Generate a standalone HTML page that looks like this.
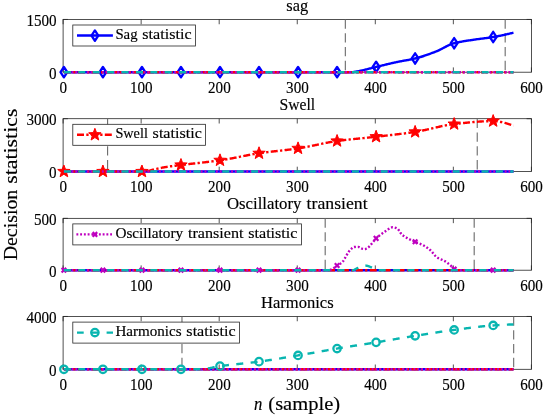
<!DOCTYPE html>
<html><head><meta charset="utf-8"><style>html,body{margin:0;padding:0;background:#fff;overflow:hidden}svg{display:block}text{stroke:#000;stroke-width:0.15px}</style></head><body>
<svg width="550" height="419" viewBox="0 0 550 419" font-family="Liberation Serif, serif" fill="#000">
<rect width="550" height="419" fill="#fff"/>
<rect x="63.1" y="19.45" width="468.30" height="52.75" fill="none" stroke="#262626" stroke-width="0.8"/>
<line x1="63.10" y1="19.45" x2="63.10" y2="24.25" stroke="#262626" stroke-width="0.8"/>
<line x1="63.10" y1="72.2" x2="63.10" y2="67.4" stroke="#262626" stroke-width="0.8"/>
<line x1="141.15" y1="19.45" x2="141.15" y2="24.25" stroke="#262626" stroke-width="0.8"/>
<line x1="141.15" y1="72.2" x2="141.15" y2="67.4" stroke="#262626" stroke-width="0.8"/>
<line x1="219.20" y1="19.45" x2="219.20" y2="24.25" stroke="#262626" stroke-width="0.8"/>
<line x1="219.20" y1="72.2" x2="219.20" y2="67.4" stroke="#262626" stroke-width="0.8"/>
<line x1="297.25" y1="19.45" x2="297.25" y2="24.25" stroke="#262626" stroke-width="0.8"/>
<line x1="297.25" y1="72.2" x2="297.25" y2="67.4" stroke="#262626" stroke-width="0.8"/>
<line x1="375.30" y1="19.45" x2="375.30" y2="24.25" stroke="#262626" stroke-width="0.8"/>
<line x1="375.30" y1="72.2" x2="375.30" y2="67.4" stroke="#262626" stroke-width="0.8"/>
<line x1="453.35" y1="19.45" x2="453.35" y2="24.25" stroke="#262626" stroke-width="0.8"/>
<line x1="453.35" y1="72.2" x2="453.35" y2="67.4" stroke="#262626" stroke-width="0.8"/>
<line x1="531.40" y1="19.45" x2="531.40" y2="24.25" stroke="#262626" stroke-width="0.8"/>
<line x1="531.40" y1="72.2" x2="531.40" y2="67.4" stroke="#262626" stroke-width="0.8"/>
<line x1="63.1" y1="19.45" x2="67.9" y2="19.45" stroke="#262626" stroke-width="0.8"/>
<line x1="531.4" y1="19.45" x2="526.6" y2="19.45" stroke="#262626" stroke-width="0.8"/>
<line x1="345.33" y1="19.45" x2="345.33" y2="72.2" stroke="#6a6a6a" stroke-width="1.1" stroke-dasharray="9.3 4.5"/>
<line x1="505.18" y1="19.45" x2="505.18" y2="72.2" stroke="#6a6a6a" stroke-width="1.1" stroke-dasharray="9.3 4.5"/>
<path d="M63.90,72.20 L64.68,72.20 L65.46,72.20 L66.24,72.20 L67.02,72.20 L67.80,72.20 L68.58,72.20 L69.36,72.20 L70.14,72.20 L70.92,72.20 L71.70,72.20 L72.49,72.20 L73.27,72.20 L74.05,72.20 L74.83,72.20 L75.61,72.20 L76.39,72.20 L77.17,72.20 L77.95,72.20 L78.73,72.20 L79.51,72.20 L80.29,72.20 L81.07,72.20 L81.85,72.20 L82.63,72.20 L83.41,72.20 L84.19,72.20 L84.97,72.20 L85.75,72.20 L86.53,72.20 L87.31,72.20 L88.10,72.20 L88.88,72.20 L89.66,72.20 L90.44,72.20 L91.22,72.20 L92.00,72.20 L92.78,72.20 L93.56,72.20 L94.34,72.20 L95.12,72.20 L95.90,72.20 L96.68,72.20 L97.46,72.20 L98.24,72.20 L99.02,72.20 L99.80,72.20 L100.58,72.20 L101.36,72.20 L102.14,72.20 L102.92,72.20 L103.71,72.20 L104.49,72.20 L105.27,72.20 L106.05,72.20 L106.83,72.20 L107.61,72.20 L108.39,72.20 L109.17,72.20 L109.95,72.20 L110.73,72.20 L111.51,72.20 L112.29,72.20 L113.07,72.20 L113.85,72.20 L114.63,72.20 L115.41,72.20 L116.19,72.20 L116.97,72.20 L117.75,72.20 L118.53,72.20 L119.32,72.20 L120.10,72.20 L120.88,72.20 L121.66,72.20 L122.44,72.20 L123.22,72.20 L124.00,72.20 L124.78,72.20 L125.56,72.20 L126.34,72.20 L127.12,72.20 L127.90,72.20 L128.68,72.20 L129.46,72.20 L130.24,72.20 L131.02,72.20 L131.80,72.20 L132.58,72.20 L133.36,72.20 L134.15,72.20 L134.93,72.20 L135.71,72.20 L136.49,72.20 L137.27,72.20 L138.05,72.20 L138.83,72.20 L139.61,72.20 L140.39,72.20 L141.17,72.20 L141.95,72.20 L142.73,72.20 L143.51,72.20 L144.29,72.20 L145.07,72.20 L145.85,72.20 L146.63,72.20 L147.41,72.20 L148.19,72.20 L148.97,72.20 L149.75,72.20 L150.54,72.20 L151.32,72.20 L152.10,72.20 L152.88,72.20 L153.66,72.20 L154.44,72.20 L155.22,72.20 L156.00,72.20 L156.78,72.20 L157.56,72.20 L158.34,72.20 L159.12,72.20 L159.90,72.20 L160.68,72.20 L161.46,72.20 L162.24,72.20 L163.02,72.20 L163.80,72.20 L164.58,72.20 L165.37,72.20 L166.15,72.20 L166.93,72.20 L167.71,72.20 L168.49,72.20 L169.27,72.20 L170.05,72.20 L170.83,72.20 L171.61,72.20 L172.39,72.20 L173.17,72.20 L173.95,72.20 L174.73,72.20 L175.51,72.20 L176.29,72.20 L177.07,72.20 L177.85,72.20 L178.63,72.20 L179.41,72.20 L180.19,72.20 L180.97,72.20 L181.76,72.20 L182.54,72.20 L183.32,72.20 L184.10,72.20 L184.88,72.20 L185.66,72.20 L186.44,72.20 L187.22,72.20 L188.00,72.20 L188.78,72.20 L189.56,72.20 L190.34,72.20 L191.12,72.20 L191.90,72.20 L192.68,72.20 L193.46,72.20 L194.24,72.20 L195.02,72.20 L195.80,72.20 L196.59,72.20 L197.37,72.20 L198.15,72.20 L198.93,72.20 L199.71,72.20 L200.49,72.20 L201.27,72.20 L202.05,72.20 L202.83,72.20 L203.61,72.20 L204.39,72.20 L205.17,72.20 L205.95,72.20 L206.73,72.20 L207.51,72.20 L208.29,72.20 L209.07,72.20 L209.85,72.20 L210.63,72.20 L211.41,72.20 L212.19,72.20 L212.98,72.20 L213.76,72.20 L214.54,72.20 L215.32,72.20 L216.10,72.20 L216.88,72.20 L217.66,72.20 L218.44,72.20 L219.22,72.20 L220.00,72.20 L220.78,72.20 L221.56,72.20 L222.34,72.20 L223.12,72.20 L223.90,72.20 L224.68,72.20 L225.46,72.20 L226.24,72.20 L227.02,72.20 L227.81,72.20 L228.59,72.20 L229.37,72.20 L230.15,72.20 L230.93,72.20 L231.71,72.20 L232.49,72.20 L233.27,72.20 L234.05,72.20 L234.83,72.20 L235.61,72.20 L236.39,72.20 L237.17,72.20 L237.95,72.20 L238.73,72.20 L239.51,72.20 L240.29,72.20 L241.07,72.20 L241.85,72.20 L242.63,72.20 L243.41,72.20 L244.20,72.20 L244.98,72.20 L245.76,72.20 L246.54,72.20 L247.32,72.20 L248.10,72.20 L248.88,72.20 L249.66,72.20 L250.44,72.20 L251.22,72.20 L252.00,72.20 L252.78,72.20 L253.56,72.20 L254.34,72.20 L255.12,72.20 L255.90,72.20 L256.68,72.20 L257.46,72.20 L258.24,72.20 L259.02,72.20 L259.81,72.20 L260.59,72.20 L261.37,72.20 L262.15,72.20 L262.93,72.20 L263.71,72.20 L264.49,72.20 L265.27,72.20 L266.05,72.20 L266.83,72.20 L267.61,72.20 L268.39,72.20 L269.17,72.20 L269.95,72.20 L270.73,72.20 L271.51,72.20 L272.29,72.20 L273.07,72.20 L273.85,72.20 L274.63,72.20 L275.42,72.20 L276.20,72.20 L276.98,72.20 L277.76,72.20 L278.54,72.20 L279.32,72.20 L280.10,72.20 L280.88,72.20 L281.66,72.20 L282.44,72.20 L283.22,72.20 L284.00,72.20 L284.78,72.20 L285.56,72.20 L286.34,72.20 L287.12,72.20 L287.90,72.20 L288.68,72.20 L289.46,72.20 L290.25,72.20 L291.03,72.20 L291.81,72.20 L292.59,72.20 L293.37,72.20 L294.15,72.20 L294.93,72.20 L295.71,72.20 L296.49,72.20 L297.27,72.20 L298.05,72.20 L298.83,72.20 L299.61,72.20 L300.39,72.20 L301.17,72.20 L301.95,72.20 L302.73,72.20 L303.51,72.20 L304.29,72.20 L305.07,72.20 L305.85,72.20 L306.64,72.20 L307.42,72.20 L308.20,72.20 L308.98,72.20 L309.76,72.20 L310.54,72.20 L311.32,72.20 L312.10,72.20 L312.88,72.20 L313.66,72.20 L314.44,72.20 L315.22,72.20 L316.00,72.20 L316.78,72.20 L317.56,72.20 L318.34,72.20 L319.12,72.20 L319.90,72.20 L320.68,72.20 L321.46,72.20 L322.25,72.20 L323.03,72.20 L323.81,72.20 L324.59,72.20 L325.37,72.20 L326.15,72.20 L326.93,72.20 L327.71,72.20 L328.49,72.20 L329.27,72.20 L330.05,72.20 L330.83,72.20 L331.61,72.20 L332.39,72.20 L333.17,72.20 L333.95,72.20 L334.73,72.20 L335.51,72.20 L336.29,72.20 L337.07,72.20 L337.86,72.20 L338.64,72.20 L339.42,72.20 L340.20,72.20 L340.98,72.20 L341.76,72.20 L342.54,72.20 L343.32,72.20 L344.10,72.20 L344.88,72.20 L345.66,72.20 L346.44,72.20 L347.22,72.20 L348.00,72.20 L348.78,72.20 L349.56,72.20 L350.34,72.20 L351.12,72.20 L351.90,72.18 L352.68,72.11 L353.47,72.01 L354.25,71.89 L355.03,71.76 L355.81,71.63 L356.59,71.50 L357.37,71.37 L358.15,71.23 L358.93,71.09 L359.71,70.93 L360.49,70.77 L361.27,70.61 L362.05,70.43 L362.83,70.26 L363.61,70.07 L364.39,69.88 L365.17,69.69 L365.95,69.50 L366.73,69.30 L367.51,69.10 L368.29,68.90 L369.08,68.70 L369.86,68.49 L370.64,68.29 L371.42,68.09 L372.20,67.89 L372.98,67.69 L373.76,67.49 L374.54,67.30 L375.32,67.11 L376.10,66.92 L376.88,66.74 L377.66,66.56 L378.44,66.37 L379.22,66.18 L380.00,65.99 L380.78,65.80 L381.56,65.62 L382.34,65.43 L383.12,65.24 L383.90,65.05 L384.69,64.86 L385.47,64.67 L386.25,64.48 L387.03,64.29 L387.81,64.10 L388.59,63.92 L389.37,63.73 L390.15,63.55 L390.93,63.37 L391.71,63.18 L392.49,63.01 L393.27,62.83 L394.05,62.65 L394.83,62.48 L395.61,62.31 L396.39,62.14 L397.17,61.98 L397.95,61.82 L398.73,61.67 L399.51,61.52 L400.30,61.37 L401.08,61.22 L401.86,61.08 L402.64,60.94 L403.42,60.80 L404.20,60.67 L404.98,60.53 L405.76,60.39 L406.54,60.25 L407.32,60.11 L408.10,59.96 L408.88,59.82 L409.66,59.67 L410.44,59.52 L411.22,59.36 L412.00,59.20 L412.78,59.03 L413.56,58.85 L414.34,58.67 L415.12,58.48 L415.91,58.29 L416.69,58.09 L417.47,57.88 L418.25,57.66 L419.03,57.44 L419.81,57.21 L420.59,56.98 L421.37,56.74 L422.15,56.49 L422.93,56.24 L423.71,55.99 L424.49,55.73 L425.27,55.46 L426.05,55.19 L426.83,54.92 L427.61,54.64 L428.39,54.36 L429.17,54.08 L429.95,53.79 L430.73,53.50 L431.52,53.21 L432.30,52.92 L433.08,52.62 L433.86,52.32 L434.64,52.02 L435.42,51.72 L436.20,51.42 L436.98,51.10 L437.76,50.77 L438.54,50.42 L439.32,50.05 L440.10,49.67 L440.88,49.28 L441.66,48.88 L442.44,48.47 L443.22,48.06 L444.00,47.65 L444.78,47.24 L445.56,46.83 L446.34,46.43 L447.13,46.03 L447.91,45.65 L448.69,45.28 L449.47,44.92 L450.25,44.58 L451.03,44.26 L451.81,43.96 L452.59,43.69 L453.37,43.44 L454.15,43.22 L454.93,43.02 L455.71,42.83 L456.49,42.65 L457.27,42.48 L458.05,42.31 L458.83,42.15 L459.61,41.99 L460.39,41.84 L461.17,41.70 L461.95,41.56 L462.74,41.42 L463.52,41.29 L464.30,41.16 L465.08,41.04 L465.86,40.91 L466.64,40.79 L467.42,40.67 L468.20,40.55 L468.98,40.43 L469.76,40.32 L470.54,40.20 L471.32,40.07 L472.10,39.95 L472.88,39.83 L473.66,39.71 L474.44,39.60 L475.22,39.49 L476.00,39.38 L476.78,39.27 L477.56,39.17 L478.35,39.07 L479.13,38.97 L479.91,38.87 L480.69,38.77 L481.47,38.67 L482.25,38.57 L483.03,38.47 L483.81,38.37 L484.59,38.27 L485.37,38.17 L486.15,38.07 L486.93,37.97 L487.71,37.86 L488.49,37.75 L489.27,37.64 L490.05,37.53 L490.83,37.41 L491.61,37.29 L492.39,37.16 L493.17,37.03 L493.96,36.90 L494.74,36.76 L495.52,36.62 L496.30,36.48 L497.08,36.33 L497.86,36.18 L498.64,36.03 L499.42,35.88 L500.20,35.72 L500.98,35.56 L501.76,35.40 L502.54,35.23 L503.32,35.06 L504.10,34.89 L504.88,34.72 L505.66,34.54 L506.44,34.36 L507.22,34.18 L508.00,34.00 L508.78,33.81 L509.57,33.63 L510.35,33.44 L511.13,33.25 L511.91,33.05 L512.69,32.86 L513.47,32.66" fill="none" stroke="#0000ff" stroke-width="2.4" stroke-linejoin="round"/>
<path d="M63.90,67.00 L67.30,72.20 L63.90,77.40 L60.50,72.20 Z" fill="none" stroke="#0000ff" stroke-width="2.3" stroke-linejoin="round"/>
<path d="M102.92,67.00 L106.33,72.20 L102.92,77.40 L99.52,72.20 Z" fill="none" stroke="#0000ff" stroke-width="2.3" stroke-linejoin="round"/>
<path d="M141.95,67.00 L145.35,72.20 L141.95,77.40 L138.55,72.20 Z" fill="none" stroke="#0000ff" stroke-width="2.3" stroke-linejoin="round"/>
<path d="M180.97,67.00 L184.38,72.20 L180.97,77.40 L177.57,72.20 Z" fill="none" stroke="#0000ff" stroke-width="2.3" stroke-linejoin="round"/>
<path d="M220.00,67.00 L223.40,72.20 L220.00,77.40 L216.60,72.20 Z" fill="none" stroke="#0000ff" stroke-width="2.3" stroke-linejoin="round"/>
<path d="M259.02,67.00 L262.42,72.20 L259.02,77.40 L255.62,72.20 Z" fill="none" stroke="#0000ff" stroke-width="2.3" stroke-linejoin="round"/>
<path d="M298.05,67.00 L301.45,72.20 L298.05,77.40 L294.65,72.20 Z" fill="none" stroke="#0000ff" stroke-width="2.3" stroke-linejoin="round"/>
<path d="M337.07,67.00 L340.47,72.20 L337.07,77.40 L333.68,72.20 Z" fill="none" stroke="#0000ff" stroke-width="2.3" stroke-linejoin="round"/>
<path d="M376.10,61.72 L379.50,66.92 L376.10,72.12 L372.70,66.92 Z" fill="none" stroke="#0000ff" stroke-width="2.3" stroke-linejoin="round"/>
<path d="M415.12,53.28 L418.52,58.48 L415.12,63.69 L411.72,58.48 Z" fill="none" stroke="#0000ff" stroke-width="2.3" stroke-linejoin="round"/>
<path d="M454.15,38.02 L457.55,43.22 L454.15,48.42 L450.75,43.22 Z" fill="none" stroke="#0000ff" stroke-width="2.3" stroke-linejoin="round"/>
<path d="M493.17,31.83 L496.57,37.03 L493.17,42.23 L489.77,37.03 Z" fill="none" stroke="#0000ff" stroke-width="2.3" stroke-linejoin="round"/>
<line x1="63.90" y1="72.2" x2="513.47" y2="72.2" stroke="#ff0000" stroke-width="2.4" stroke-dasharray="7 2.3 2.3 2.3"/>
<line x1="63.90" y1="72.2" x2="513.47" y2="72.2" stroke="#bf00bf" stroke-width="2.4" stroke-dasharray="1.9 1.9"/>
<line x1="63.90" y1="72.2" x2="513.47" y2="72.2" stroke="#08b5b0" stroke-width="2.4" stroke-dasharray="7 7.4"/>
<text x="59.53" y="92.8" font-size="15.9" textLength="7.55" lengthAdjust="spacingAndGlyphs">0</text>
<text x="130.03" y="92.8" font-size="15.9" textLength="22.65" lengthAdjust="spacingAndGlyphs">100</text>
<text x="208.07" y="92.8" font-size="15.9" textLength="22.65" lengthAdjust="spacingAndGlyphs">200</text>
<text x="286.12" y="92.8" font-size="15.9" textLength="22.65" lengthAdjust="spacingAndGlyphs">300</text>
<text x="364.18" y="92.8" font-size="15.9" textLength="22.65" lengthAdjust="spacingAndGlyphs">400</text>
<text x="442.23" y="92.8" font-size="15.9" textLength="22.65" lengthAdjust="spacingAndGlyphs">500</text>
<text x="520.27" y="92.8" font-size="15.9" textLength="22.65" lengthAdjust="spacingAndGlyphs">600</text>
<text x="26.40" y="25.9" font-size="15.9" textLength="30.20" lengthAdjust="spacingAndGlyphs">1500</text>
<text x="49.05" y="78.6" font-size="15.9" textLength="7.55" lengthAdjust="spacingAndGlyphs">0</text>
<text x="286.39" y="11.3" font-size="16.2" textLength="21.82" lengthAdjust="spacingAndGlyphs">sag</text>
<rect x="72.8" y="25.0" width="122.6" height="21.0" fill="#fff" stroke="#262626" stroke-width="0.8"/>
<line x1="77" y1="35.5" x2="112.9" y2="35.5" stroke="#0000ff" stroke-width="2.4"/>
<path d="M94.90,30.35 L98.30,35.55 L94.90,40.75 L91.50,35.55 Z" fill="none" stroke="#0000ff" stroke-width="2.3" stroke-linejoin="round"/>
<text x="115.40" y="39.0" font-size="14.6" textLength="22.17" lengthAdjust="spacingAndGlyphs">Sag</text><text x="142.32" y="39.0" font-size="14.6" textLength="49.23" lengthAdjust="spacingAndGlyphs">statistic</text>
<rect x="63.1" y="118.7" width="468.30" height="52.80" fill="none" stroke="#262626" stroke-width="0.8"/>
<line x1="63.10" y1="118.7" x2="63.10" y2="123.5" stroke="#262626" stroke-width="0.8"/>
<line x1="63.10" y1="171.5" x2="63.10" y2="166.7" stroke="#262626" stroke-width="0.8"/>
<line x1="141.15" y1="118.7" x2="141.15" y2="123.5" stroke="#262626" stroke-width="0.8"/>
<line x1="141.15" y1="171.5" x2="141.15" y2="166.7" stroke="#262626" stroke-width="0.8"/>
<line x1="219.20" y1="118.7" x2="219.20" y2="123.5" stroke="#262626" stroke-width="0.8"/>
<line x1="219.20" y1="171.5" x2="219.20" y2="166.7" stroke="#262626" stroke-width="0.8"/>
<line x1="297.25" y1="118.7" x2="297.25" y2="123.5" stroke="#262626" stroke-width="0.8"/>
<line x1="297.25" y1="171.5" x2="297.25" y2="166.7" stroke="#262626" stroke-width="0.8"/>
<line x1="375.30" y1="118.7" x2="375.30" y2="123.5" stroke="#262626" stroke-width="0.8"/>
<line x1="375.30" y1="171.5" x2="375.30" y2="166.7" stroke="#262626" stroke-width="0.8"/>
<line x1="453.35" y1="118.7" x2="453.35" y2="123.5" stroke="#262626" stroke-width="0.8"/>
<line x1="453.35" y1="171.5" x2="453.35" y2="166.7" stroke="#262626" stroke-width="0.8"/>
<line x1="531.40" y1="118.7" x2="531.40" y2="123.5" stroke="#262626" stroke-width="0.8"/>
<line x1="531.40" y1="171.5" x2="531.40" y2="166.7" stroke="#262626" stroke-width="0.8"/>
<line x1="63.1" y1="118.7" x2="67.9" y2="118.7" stroke="#262626" stroke-width="0.8"/>
<line x1="531.4" y1="118.7" x2="526.6" y2="118.7" stroke="#262626" stroke-width="0.8"/>
<line x1="107.59" y1="118.7" x2="107.59" y2="171.5" stroke="#6a6a6a" stroke-width="1.1" stroke-dasharray="9.3 4.5"/>
<line x1="477.23" y1="118.7" x2="477.23" y2="171.5" stroke="#6a6a6a" stroke-width="1.1" stroke-dasharray="9.3 4.5"/>
<line x1="63.90" y1="171.5" x2="513.47" y2="171.5" stroke="#0000ff" stroke-width="2.4"/>
<path d="M63.90,171.50 L64.68,171.50 L65.46,171.50 L66.24,171.50 L67.02,171.50 L67.80,171.50 L68.58,171.50 L69.36,171.50 L70.14,171.50 L70.92,171.50 L71.70,171.50 L72.49,171.50 L73.27,171.50 L74.05,171.50 L74.83,171.50 L75.61,171.50 L76.39,171.50 L77.17,171.50 L77.95,171.50 L78.73,171.50 L79.51,171.50 L80.29,171.50 L81.07,171.50 L81.85,171.50 L82.63,171.50 L83.41,171.50 L84.19,171.50 L84.97,171.50 L85.75,171.50 L86.53,171.50 L87.31,171.50 L88.10,171.50 L88.88,171.50 L89.66,171.50 L90.44,171.50 L91.22,171.50 L92.00,171.50 L92.78,171.50 L93.56,171.50 L94.34,171.50 L95.12,171.50 L95.90,171.50 L96.68,171.50 L97.46,171.50 L98.24,171.50 L99.02,171.50 L99.80,171.50 L100.58,171.50 L101.36,171.50 L102.14,171.50 L102.92,171.50 L103.71,171.50 L104.49,171.50 L105.27,171.50 L106.05,171.50 L106.83,171.50 L107.61,171.50 L108.39,171.50 L109.17,171.50 L109.95,171.50 L110.73,171.50 L111.51,171.50 L112.29,171.50 L113.07,171.50 L113.85,171.50 L114.63,171.50 L115.41,171.50 L116.19,171.50 L116.97,171.50 L117.75,171.50 L118.53,171.50 L119.32,171.50 L120.10,171.50 L120.88,171.50 L121.66,171.50 L122.44,171.50 L123.22,171.50 L124.00,171.50 L124.78,171.50 L125.56,171.50 L126.34,171.50 L127.12,171.50 L127.90,171.50 L128.68,171.50 L129.46,171.50 L130.24,171.50 L131.02,171.50 L131.80,171.50 L132.58,171.50 L133.36,171.50 L134.15,171.50 L134.93,171.50 L135.71,171.50 L136.49,171.50 L137.27,171.50 L138.05,171.50 L138.83,171.50 L139.61,171.50 L140.39,171.50 L141.17,171.50 L141.95,171.50 L142.73,171.50 L143.51,171.49 L144.29,171.48 L145.07,171.46 L145.85,171.42 L146.63,171.33 L147.41,171.19 L148.19,171.03 L148.97,170.83 L149.75,170.62 L150.54,170.39 L151.32,170.17 L152.10,169.95 L152.88,169.75 L153.66,169.56 L154.44,169.39 L155.22,169.22 L156.00,169.05 L156.78,168.87 L157.56,168.69 L158.34,168.52 L159.12,168.34 L159.90,168.17 L160.68,168.00 L161.46,167.84 L162.24,167.68 L163.02,167.52 L163.80,167.37 L164.58,167.23 L165.37,167.10 L166.15,166.97 L166.93,166.85 L167.71,166.73 L168.49,166.62 L169.27,166.51 L170.05,166.40 L170.83,166.29 L171.61,166.19 L172.39,166.09 L173.17,165.99 L173.95,165.89 L174.73,165.79 L175.51,165.70 L176.29,165.60 L177.07,165.51 L177.85,165.41 L178.63,165.32 L179.41,165.22 L180.19,165.12 L180.97,165.02 L181.76,164.92 L182.54,164.83 L183.32,164.73 L184.10,164.64 L184.88,164.54 L185.66,164.45 L186.44,164.35 L187.22,164.26 L188.00,164.17 L188.78,164.08 L189.56,163.99 L190.34,163.90 L191.12,163.81 L191.90,163.73 L192.68,163.64 L193.46,163.55 L194.24,163.46 L195.02,163.38 L195.80,163.29 L196.59,163.20 L197.37,163.11 L198.15,163.03 L198.93,162.94 L199.71,162.85 L200.49,162.77 L201.27,162.68 L202.05,162.59 L202.83,162.50 L203.61,162.41 L204.39,162.32 L205.17,162.23 L205.95,162.14 L206.73,162.05 L207.51,161.96 L208.29,161.87 L209.07,161.77 L209.85,161.68 L210.63,161.58 L211.41,161.49 L212.19,161.39 L212.98,161.29 L213.76,161.19 L214.54,161.09 L215.32,160.99 L216.10,160.88 L216.88,160.78 L217.66,160.67 L218.44,160.56 L219.22,160.45 L220.00,160.34 L220.78,160.23 L221.56,160.11 L222.34,159.99 L223.12,159.87 L223.90,159.74 L224.68,159.61 L225.46,159.48 L226.24,159.35 L227.02,159.21 L227.81,159.07 L228.59,158.93 L229.37,158.79 L230.15,158.65 L230.93,158.50 L231.71,158.35 L232.49,158.21 L233.27,158.06 L234.05,157.91 L234.83,157.75 L235.61,157.60 L236.39,157.45 L237.17,157.29 L237.95,157.14 L238.73,156.99 L239.51,156.83 L240.29,156.68 L241.07,156.52 L241.85,156.37 L242.63,156.21 L243.41,156.06 L244.20,155.91 L244.98,155.75 L245.76,155.60 L246.54,155.45 L247.32,155.30 L248.10,155.16 L248.88,155.01 L249.66,154.86 L250.44,154.72 L251.22,154.58 L252.00,154.44 L252.78,154.30 L253.56,154.16 L254.34,154.03 L255.12,153.90 L255.90,153.77 L256.68,153.64 L257.46,153.52 L258.24,153.40 L259.02,153.28 L259.81,153.17 L260.59,153.06 L261.37,152.95 L262.15,152.84 L262.93,152.73 L263.71,152.63 L264.49,152.52 L265.27,152.42 L266.05,152.32 L266.83,152.22 L267.61,152.13 L268.39,152.03 L269.17,151.94 L269.95,151.84 L270.73,151.75 L271.51,151.66 L272.29,151.56 L273.07,151.47 L273.85,151.38 L274.63,151.29 L275.42,151.21 L276.20,151.12 L276.98,151.03 L277.76,150.94 L278.54,150.85 L279.32,150.76 L280.10,150.67 L280.88,150.58 L281.66,150.50 L282.44,150.41 L283.22,150.32 L284.00,150.23 L284.78,150.13 L285.56,150.04 L286.34,149.95 L287.12,149.85 L287.90,149.76 L288.68,149.66 L289.46,149.57 L290.25,149.47 L291.03,149.37 L291.81,149.27 L292.59,149.16 L293.37,149.06 L294.15,148.95 L294.93,148.84 L295.71,148.73 L296.49,148.62 L297.27,148.51 L298.05,148.39 L298.83,148.27 L299.61,148.15 L300.39,148.02 L301.17,147.89 L301.95,147.76 L302.73,147.62 L303.51,147.48 L304.29,147.34 L305.07,147.19 L305.85,147.04 L306.64,146.89 L307.42,146.74 L308.20,146.59 L308.98,146.43 L309.76,146.27 L310.54,146.12 L311.32,145.96 L312.10,145.79 L312.88,145.63 L313.66,145.47 L314.44,145.30 L315.22,145.14 L316.00,144.98 L316.78,144.81 L317.56,144.65 L318.34,144.48 L319.12,144.32 L319.90,144.15 L320.68,143.99 L321.46,143.83 L322.25,143.67 L323.03,143.51 L323.81,143.35 L324.59,143.19 L325.37,143.03 L326.15,142.88 L326.93,142.73 L327.71,142.58 L328.49,142.43 L329.27,142.29 L330.05,142.15 L330.83,142.01 L331.61,141.87 L332.39,141.74 L333.17,141.61 L333.95,141.48 L334.73,141.36 L335.51,141.24 L336.29,141.13 L337.07,141.02 L337.86,140.91 L338.64,140.80 L339.42,140.70 L340.20,140.60 L340.98,140.50 L341.76,140.40 L342.54,140.30 L343.32,140.21 L344.10,140.12 L344.88,140.02 L345.66,139.93 L346.44,139.84 L347.22,139.76 L348.00,139.67 L348.78,139.58 L349.56,139.50 L350.34,139.41 L351.12,139.33 L351.90,139.25 L352.68,139.17 L353.47,139.09 L354.25,139.01 L355.03,138.93 L355.81,138.85 L356.59,138.77 L357.37,138.69 L358.15,138.61 L358.93,138.53 L359.71,138.46 L360.49,138.38 L361.27,138.30 L362.05,138.22 L362.83,138.15 L363.61,138.07 L364.39,137.99 L365.17,137.91 L365.95,137.83 L366.73,137.75 L367.51,137.67 L368.29,137.59 L369.08,137.51 L369.86,137.43 L370.64,137.35 L371.42,137.26 L372.20,137.18 L372.98,137.09 L373.76,137.01 L374.54,136.92 L375.32,136.83 L376.10,136.74 L376.88,136.65 L377.66,136.56 L378.44,136.47 L379.22,136.38 L380.00,136.29 L380.78,136.20 L381.56,136.11 L382.34,136.02 L383.12,135.94 L383.90,135.85 L384.69,135.76 L385.47,135.67 L386.25,135.58 L387.03,135.49 L387.81,135.40 L388.59,135.31 L389.37,135.23 L390.15,135.14 L390.93,135.05 L391.71,134.96 L392.49,134.87 L393.27,134.77 L394.05,134.68 L394.83,134.59 L395.61,134.50 L396.39,134.41 L397.17,134.31 L397.95,134.22 L398.73,134.12 L399.51,134.03 L400.30,133.93 L401.08,133.83 L401.86,133.74 L402.64,133.64 L403.42,133.54 L404.20,133.44 L404.98,133.34 L405.76,133.23 L406.54,133.13 L407.32,133.02 L408.10,132.92 L408.88,132.81 L409.66,132.70 L410.44,132.59 L411.22,132.48 L412.00,132.37 L412.78,132.25 L413.56,132.14 L414.34,132.02 L415.12,131.90 L415.91,131.78 L416.69,131.65 L417.47,131.52 L418.25,131.38 L419.03,131.24 L419.81,131.09 L420.59,130.94 L421.37,130.78 L422.15,130.62 L422.93,130.46 L423.71,130.30 L424.49,130.13 L425.27,129.96 L426.05,129.78 L426.83,129.61 L427.61,129.43 L428.39,129.25 L429.17,129.07 L429.95,128.89 L430.73,128.70 L431.52,128.52 L432.30,128.34 L433.08,128.15 L433.86,127.97 L434.64,127.79 L435.42,127.60 L436.20,127.42 L436.98,127.24 L437.76,127.06 L438.54,126.89 L439.32,126.71 L440.10,126.54 L440.88,126.37 L441.66,126.20 L442.44,126.03 L443.22,125.87 L444.00,125.71 L444.78,125.56 L445.56,125.41 L446.34,125.26 L447.13,125.12 L447.91,124.98 L448.69,124.85 L449.47,124.72 L450.25,124.60 L451.03,124.49 L451.81,124.38 L452.59,124.27 L453.37,124.18 L454.15,124.09 L454.93,124.00 L455.71,123.91 L456.49,123.83 L457.27,123.74 L458.05,123.65 L458.83,123.56 L459.61,123.48 L460.39,123.39 L461.17,123.31 L461.95,123.22 L462.74,123.14 L463.52,123.05 L464.30,122.97 L465.08,122.89 L465.86,122.80 L466.64,122.72 L467.42,122.64 L468.20,122.56 L468.98,122.49 L469.76,122.41 L470.54,122.33 L471.32,122.26 L472.10,122.19 L472.88,122.12 L473.66,122.05 L474.44,121.98 L475.22,121.92 L476.00,121.85 L476.78,121.79 L477.56,121.73 L478.35,121.67 L479.13,121.62 L479.91,121.57 L480.69,121.52 L481.47,121.47 L482.25,121.42 L483.03,121.38 L483.81,121.34 L484.59,121.30 L485.37,121.27 L486.15,121.23 L486.93,121.21 L487.71,121.18 L488.49,121.16 L489.27,121.14 L490.05,121.12 L490.83,121.11 L491.61,121.10 L492.39,121.10 L493.17,121.09 L493.96,121.10 L494.74,121.13 L495.52,121.18 L496.30,121.25 L497.08,121.33 L497.86,121.43 L498.64,121.54 L499.42,121.67 L500.20,121.81 L500.98,121.97 L501.76,122.14 L502.54,122.32 L503.32,122.51 L504.10,122.71 L504.88,122.92 L505.66,123.14 L506.44,123.36 L507.22,123.60 L508.00,123.84 L508.78,124.08 L509.57,124.33 L510.35,124.58 L511.13,124.84 L511.91,125.10 L512.69,125.36 L513.47,125.62" fill="none" stroke="#ff0000" stroke-width="2.4" stroke-dasharray="7 2.3 2.3 2.3" stroke-linejoin="round"/>
<polygon points="63.90,165.00 65.50,169.29 70.08,169.49 66.50,172.34 67.72,176.76 63.90,174.23 60.08,176.76 61.30,172.34 57.72,169.49 62.30,169.29" fill="#ff0000" stroke="#ff0000" stroke-width="1" stroke-linejoin="round"/>
<polygon points="102.92,165.00 104.53,169.29 109.11,169.49 105.52,172.34 106.75,176.76 102.92,174.23 99.10,176.76 100.33,172.34 96.74,169.49 101.32,169.29" fill="#ff0000" stroke="#ff0000" stroke-width="1" stroke-linejoin="round"/>
<polygon points="141.95,165.00 143.55,169.29 148.13,169.49 144.55,172.34 145.77,176.76 141.95,174.23 138.13,176.76 139.35,172.34 135.77,169.49 140.35,169.29" fill="#ff0000" stroke="#ff0000" stroke-width="1" stroke-linejoin="round"/>
<polygon points="180.97,158.52 182.58,162.81 187.16,163.01 183.57,165.87 184.80,170.28 180.97,167.75 177.15,170.28 178.38,165.87 174.79,163.01 179.37,162.81" fill="#ff0000" stroke="#ff0000" stroke-width="1" stroke-linejoin="round"/>
<polygon points="220.00,153.84 221.60,158.13 226.18,158.33 222.60,161.19 223.82,165.60 220.00,163.07 216.18,165.60 217.40,161.19 213.82,158.33 218.40,158.13" fill="#ff0000" stroke="#ff0000" stroke-width="1" stroke-linejoin="round"/>
<polygon points="259.02,146.78 260.63,151.08 265.21,151.28 261.62,154.13 262.85,158.54 259.02,156.01 255.20,158.54 256.43,154.13 252.84,151.28 257.42,151.08" fill="#ff0000" stroke="#ff0000" stroke-width="1" stroke-linejoin="round"/>
<polygon points="298.05,141.89 299.65,146.18 304.23,146.38 300.65,149.23 301.87,153.65 298.05,151.12 294.23,153.65 295.45,149.23 291.87,146.38 296.45,146.18" fill="#ff0000" stroke="#ff0000" stroke-width="1" stroke-linejoin="round"/>
<polygon points="337.07,134.52 338.68,138.81 343.26,139.01 339.67,141.86 340.90,146.28 337.07,143.75 333.25,146.28 334.48,141.86 330.89,139.01 335.47,138.81" fill="#ff0000" stroke="#ff0000" stroke-width="1" stroke-linejoin="round"/>
<polygon points="376.10,130.24 377.70,134.53 382.28,134.73 378.70,137.58 379.92,142.00 376.10,139.47 372.28,142.00 373.50,137.58 369.92,134.73 374.50,134.53" fill="#ff0000" stroke="#ff0000" stroke-width="1" stroke-linejoin="round"/>
<polygon points="415.12,125.40 416.73,129.69 421.31,129.89 417.72,132.74 418.95,137.16 415.12,134.63 411.30,137.16 412.53,132.74 408.94,129.89 413.52,129.69" fill="#ff0000" stroke="#ff0000" stroke-width="1" stroke-linejoin="round"/>
<polygon points="454.15,117.59 455.75,121.88 460.33,122.08 456.75,124.93 457.97,129.34 454.15,126.82 450.33,129.34 451.55,124.93 447.97,122.08 452.55,121.88" fill="#ff0000" stroke="#ff0000" stroke-width="1" stroke-linejoin="round"/>
<polygon points="493.17,114.59 494.78,118.88 499.36,119.08 495.77,121.94 497.00,126.35 493.17,123.82 489.35,126.35 490.58,121.94 486.99,119.08 491.57,118.88" fill="#ff0000" stroke="#ff0000" stroke-width="1" stroke-linejoin="round"/>
<line x1="63.90" y1="171.5" x2="513.47" y2="171.5" stroke="#bf00bf" stroke-width="2.4" stroke-dasharray="1.9 1.9"/>
<line x1="63.90" y1="171.5" x2="513.47" y2="171.5" stroke="#08b5b0" stroke-width="2.4" stroke-dasharray="7 7.4"/>
<text x="59.53" y="192.1" font-size="15.9" textLength="7.55" lengthAdjust="spacingAndGlyphs">0</text>
<text x="130.03" y="192.1" font-size="15.9" textLength="22.65" lengthAdjust="spacingAndGlyphs">100</text>
<text x="208.07" y="192.1" font-size="15.9" textLength="22.65" lengthAdjust="spacingAndGlyphs">200</text>
<text x="286.12" y="192.1" font-size="15.9" textLength="22.65" lengthAdjust="spacingAndGlyphs">300</text>
<text x="364.18" y="192.1" font-size="15.9" textLength="22.65" lengthAdjust="spacingAndGlyphs">400</text>
<text x="442.23" y="192.1" font-size="15.9" textLength="22.65" lengthAdjust="spacingAndGlyphs">500</text>
<text x="520.27" y="192.1" font-size="15.9" textLength="22.65" lengthAdjust="spacingAndGlyphs">600</text>
<text x="26.40" y="125.1" font-size="15.9" textLength="30.20" lengthAdjust="spacingAndGlyphs">3000</text>
<text x="49.05" y="177.9" font-size="15.9" textLength="7.55" lengthAdjust="spacingAndGlyphs">0</text>
<text x="279.47" y="110.2" font-size="16.2" textLength="35.65" lengthAdjust="spacingAndGlyphs">Swell</text>
<rect x="72.8" y="124.3" width="132.7" height="21.0" fill="#fff" stroke="#262626" stroke-width="0.8"/>
<line x1="77" y1="134.8" x2="112.9" y2="134.8" stroke="#ff0000" stroke-width="2.4" stroke-dasharray="7 2.3 2.3 2.3"/>
<polygon points="94.90,128.30 96.50,132.59 101.08,132.79 97.50,135.64 98.72,140.06 94.90,137.53 91.08,140.06 92.30,135.64 88.72,132.79 93.30,132.59" fill="#ff0000" stroke="#ff0000" stroke-width="1" stroke-linejoin="round"/>
<text x="115.40" y="138.3" font-size="14.6" textLength="32.46" lengthAdjust="spacingAndGlyphs">Swell</text><text x="152.61" y="138.3" font-size="14.6" textLength="49.23" lengthAdjust="spacingAndGlyphs">statistic</text>
<rect x="63.1" y="218.35" width="468.30" height="51.85" fill="none" stroke="#262626" stroke-width="0.8"/>
<line x1="63.10" y1="218.35" x2="63.10" y2="223.15" stroke="#262626" stroke-width="0.8"/>
<line x1="63.10" y1="270.2" x2="63.10" y2="265.4" stroke="#262626" stroke-width="0.8"/>
<line x1="141.15" y1="218.35" x2="141.15" y2="223.15" stroke="#262626" stroke-width="0.8"/>
<line x1="141.15" y1="270.2" x2="141.15" y2="265.4" stroke="#262626" stroke-width="0.8"/>
<line x1="219.20" y1="218.35" x2="219.20" y2="223.15" stroke="#262626" stroke-width="0.8"/>
<line x1="219.20" y1="270.2" x2="219.20" y2="265.4" stroke="#262626" stroke-width="0.8"/>
<line x1="297.25" y1="218.35" x2="297.25" y2="223.15" stroke="#262626" stroke-width="0.8"/>
<line x1="297.25" y1="270.2" x2="297.25" y2="265.4" stroke="#262626" stroke-width="0.8"/>
<line x1="375.30" y1="218.35" x2="375.30" y2="223.15" stroke="#262626" stroke-width="0.8"/>
<line x1="375.30" y1="270.2" x2="375.30" y2="265.4" stroke="#262626" stroke-width="0.8"/>
<line x1="453.35" y1="218.35" x2="453.35" y2="223.15" stroke="#262626" stroke-width="0.8"/>
<line x1="453.35" y1="270.2" x2="453.35" y2="265.4" stroke="#262626" stroke-width="0.8"/>
<line x1="531.40" y1="218.35" x2="531.40" y2="223.15" stroke="#262626" stroke-width="0.8"/>
<line x1="531.40" y1="270.2" x2="531.40" y2="265.4" stroke="#262626" stroke-width="0.8"/>
<line x1="63.1" y1="218.35" x2="67.9" y2="218.35" stroke="#262626" stroke-width="0.8"/>
<line x1="531.4" y1="218.35" x2="526.6" y2="218.35" stroke="#262626" stroke-width="0.8"/>
<line x1="325.19" y1="218.35" x2="325.19" y2="270.2" stroke="#6a6a6a" stroke-width="1.1" stroke-dasharray="9.3 4.5"/>
<line x1="474.19" y1="218.35" x2="474.19" y2="270.2" stroke="#6a6a6a" stroke-width="1.1" stroke-dasharray="9.3 4.5"/>
<line x1="63.90" y1="270.2" x2="513.47" y2="270.2" stroke="#0000ff" stroke-width="2.4"/>
<line x1="63.90" y1="270.2" x2="513.47" y2="270.2" stroke="#ff0000" stroke-width="2.4" stroke-dasharray="7 2.3 2.3 2.3"/>
<path d="M63.90,270.20 L64.68,270.20 L65.46,270.20 L66.24,270.20 L67.02,270.20 L67.80,270.20 L68.58,270.20 L69.36,270.20 L70.14,270.20 L70.92,270.20 L71.70,270.20 L72.49,270.20 L73.27,270.20 L74.05,270.20 L74.83,270.20 L75.61,270.20 L76.39,270.20 L77.17,270.20 L77.95,270.20 L78.73,270.20 L79.51,270.20 L80.29,270.20 L81.07,270.20 L81.85,270.20 L82.63,270.20 L83.41,270.20 L84.19,270.20 L84.97,270.20 L85.75,270.20 L86.53,270.20 L87.31,270.20 L88.10,270.20 L88.88,270.20 L89.66,270.20 L90.44,270.20 L91.22,270.20 L92.00,270.20 L92.78,270.20 L93.56,270.20 L94.34,270.20 L95.12,270.20 L95.90,270.20 L96.68,270.20 L97.46,270.20 L98.24,270.20 L99.02,270.20 L99.80,270.20 L100.58,270.20 L101.36,270.20 L102.14,270.20 L102.92,270.20 L103.71,270.20 L104.49,270.20 L105.27,270.20 L106.05,270.20 L106.83,270.20 L107.61,270.20 L108.39,270.20 L109.17,270.20 L109.95,270.20 L110.73,270.20 L111.51,270.20 L112.29,270.20 L113.07,270.20 L113.85,270.20 L114.63,270.20 L115.41,270.20 L116.19,270.20 L116.97,270.20 L117.75,270.20 L118.53,270.20 L119.32,270.20 L120.10,270.20 L120.88,270.20 L121.66,270.20 L122.44,270.20 L123.22,270.20 L124.00,270.20 L124.78,270.20 L125.56,270.20 L126.34,270.20 L127.12,270.20 L127.90,270.20 L128.68,270.20 L129.46,270.20 L130.24,270.20 L131.02,270.20 L131.80,270.20 L132.58,270.20 L133.36,270.20 L134.15,270.20 L134.93,270.20 L135.71,270.20 L136.49,270.20 L137.27,270.20 L138.05,270.20 L138.83,270.20 L139.61,270.20 L140.39,270.20 L141.17,270.20 L141.95,270.20 L142.73,270.20 L143.51,270.20 L144.29,270.20 L145.07,270.20 L145.85,270.20 L146.63,270.20 L147.41,270.20 L148.19,270.20 L148.97,270.20 L149.75,270.20 L150.54,270.20 L151.32,270.20 L152.10,270.20 L152.88,270.20 L153.66,270.20 L154.44,270.20 L155.22,270.20 L156.00,270.20 L156.78,270.20 L157.56,270.20 L158.34,270.20 L159.12,270.20 L159.90,270.20 L160.68,270.20 L161.46,270.20 L162.24,270.20 L163.02,270.20 L163.80,270.20 L164.58,270.20 L165.37,270.20 L166.15,270.20 L166.93,270.20 L167.71,270.20 L168.49,270.20 L169.27,270.20 L170.05,270.20 L170.83,270.20 L171.61,270.20 L172.39,270.20 L173.17,270.20 L173.95,270.20 L174.73,270.20 L175.51,270.20 L176.29,270.20 L177.07,270.20 L177.85,270.20 L178.63,270.20 L179.41,270.20 L180.19,270.20 L180.97,270.20 L181.76,270.20 L182.54,270.20 L183.32,270.20 L184.10,270.20 L184.88,270.20 L185.66,270.20 L186.44,270.20 L187.22,270.20 L188.00,270.20 L188.78,270.20 L189.56,270.20 L190.34,270.20 L191.12,270.20 L191.90,270.20 L192.68,270.20 L193.46,270.20 L194.24,270.20 L195.02,270.20 L195.80,270.20 L196.59,270.20 L197.37,270.20 L198.15,270.20 L198.93,270.20 L199.71,270.20 L200.49,270.20 L201.27,270.20 L202.05,270.20 L202.83,270.20 L203.61,270.20 L204.39,270.20 L205.17,270.20 L205.95,270.20 L206.73,270.20 L207.51,270.20 L208.29,270.20 L209.07,270.20 L209.85,270.20 L210.63,270.20 L211.41,270.20 L212.19,270.20 L212.98,270.20 L213.76,270.20 L214.54,270.20 L215.32,270.20 L216.10,270.20 L216.88,270.20 L217.66,270.20 L218.44,270.20 L219.22,270.20 L220.00,270.20 L220.78,270.20 L221.56,270.20 L222.34,270.20 L223.12,270.20 L223.90,270.20 L224.68,270.20 L225.46,270.20 L226.24,270.20 L227.02,270.20 L227.81,270.20 L228.59,270.20 L229.37,270.20 L230.15,270.20 L230.93,270.20 L231.71,270.20 L232.49,270.20 L233.27,270.20 L234.05,270.20 L234.83,270.20 L235.61,270.20 L236.39,270.20 L237.17,270.20 L237.95,270.20 L238.73,270.20 L239.51,270.20 L240.29,270.20 L241.07,270.20 L241.85,270.20 L242.63,270.20 L243.41,270.20 L244.20,270.20 L244.98,270.20 L245.76,270.20 L246.54,270.20 L247.32,270.20 L248.10,270.20 L248.88,270.20 L249.66,270.20 L250.44,270.20 L251.22,270.20 L252.00,270.20 L252.78,270.20 L253.56,270.20 L254.34,270.20 L255.12,270.20 L255.90,270.20 L256.68,270.20 L257.46,270.20 L258.24,270.20 L259.02,270.20 L259.81,270.20 L260.59,270.20 L261.37,270.20 L262.15,270.20 L262.93,270.20 L263.71,270.20 L264.49,270.20 L265.27,270.20 L266.05,270.20 L266.83,270.20 L267.61,270.20 L268.39,270.20 L269.17,270.20 L269.95,270.20 L270.73,270.20 L271.51,270.20 L272.29,270.20 L273.07,270.20 L273.85,270.20 L274.63,270.20 L275.42,270.20 L276.20,270.20 L276.98,270.20 L277.76,270.20 L278.54,270.20 L279.32,270.20 L280.10,270.20 L280.88,270.20 L281.66,270.20 L282.44,270.20 L283.22,270.20 L284.00,270.20 L284.78,270.20 L285.56,270.20 L286.34,270.20 L287.12,270.20 L287.90,270.20 L288.68,270.20 L289.46,270.20 L290.25,270.20 L291.03,270.20 L291.81,270.20 L292.59,270.20 L293.37,270.20 L294.15,270.20 L294.93,270.20 L295.71,270.20 L296.49,270.20 L297.27,270.20 L298.05,270.20 L298.83,270.20 L299.61,270.20 L300.39,270.20 L301.17,270.20 L301.95,270.20 L302.73,270.20 L303.51,270.20 L304.29,270.20 L305.07,270.20 L305.85,270.20 L306.64,270.20 L307.42,270.20 L308.20,270.20 L308.98,270.20 L309.76,270.20 L310.54,270.20 L311.32,270.20 L312.10,270.20 L312.88,270.20 L313.66,270.20 L314.44,270.20 L315.22,270.20 L316.00,270.20 L316.78,270.20 L317.56,270.20 L318.34,270.20 L319.12,270.20 L319.90,270.20 L320.68,270.20 L321.46,270.20 L322.25,270.20 L323.03,270.20 L323.81,270.20 L324.59,270.20 L325.37,270.20 L326.15,270.20 L326.93,270.20 L327.71,270.20 L328.49,270.15 L329.27,270.03 L330.05,269.84 L330.83,269.61 L331.61,269.37 L332.39,269.04 L333.17,268.57 L333.95,268.01 L334.73,267.38 L335.51,266.74 L336.29,266.11 L337.07,265.53 L337.86,265.03 L338.64,264.58 L339.42,264.14 L340.20,263.68 L340.98,263.18 L341.76,262.60 L342.54,261.90 L343.32,260.94 L344.10,259.68 L344.88,258.24 L345.66,256.80 L346.44,255.47 L347.22,254.23 L348.00,252.96 L348.78,251.74 L349.56,250.65 L350.34,249.77 L351.12,249.01 L351.90,248.26 L352.68,247.62 L353.47,247.17 L354.25,246.97 L355.03,246.93 L355.81,246.91 L356.59,246.88 L357.37,246.87 L358.15,246.87 L358.93,247.06 L359.71,247.52 L360.49,248.04 L361.27,248.42 L362.05,248.68 L362.83,248.91 L363.61,249.08 L364.39,249.15 L365.17,249.05 L365.95,248.77 L366.73,248.37 L367.51,247.89 L368.29,247.39 L369.08,246.75 L369.86,245.92 L370.64,244.99 L371.42,244.07 L372.20,243.14 L372.98,242.14 L373.76,241.13 L374.54,240.13 L375.32,239.20 L376.10,238.36 L376.88,237.63 L377.66,236.95 L378.44,236.32 L379.22,235.71 L380.00,235.12 L380.78,234.53 L381.56,233.94 L382.34,233.36 L383.12,232.79 L383.90,232.24 L384.69,231.70 L385.47,231.18 L386.25,230.69 L387.03,230.17 L387.81,229.61 L388.59,229.04 L389.37,228.50 L390.15,228.01 L390.93,227.62 L391.71,227.36 L392.49,227.27 L393.27,227.31 L394.05,227.44 L394.83,227.63 L395.61,227.88 L396.39,228.18 L397.17,228.51 L397.95,229.10 L398.73,230.07 L399.51,231.26 L400.30,232.51 L401.08,233.65 L401.86,234.53 L402.64,235.18 L403.42,235.77 L404.20,236.31 L404.98,236.81 L405.76,237.28 L406.54,237.72 L407.32,238.16 L408.10,238.58 L408.88,238.97 L409.66,239.35 L410.44,239.72 L411.22,240.07 L412.00,240.42 L412.78,240.76 L413.56,241.10 L414.34,241.44 L415.12,241.79 L415.91,242.13 L416.69,242.46 L417.47,242.77 L418.25,243.08 L419.03,243.40 L419.81,243.71 L420.59,244.04 L421.37,244.37 L422.15,244.73 L422.93,245.11 L423.71,245.52 L424.49,245.96 L425.27,246.43 L426.05,246.92 L426.83,247.45 L427.61,248.00 L428.39,248.58 L429.17,249.19 L429.95,249.83 L430.73,250.50 L431.52,251.26 L432.30,252.16 L433.08,253.14 L433.86,254.14 L434.64,255.11 L435.42,256.01 L436.20,256.77 L436.98,257.35 L437.76,257.84 L438.54,258.27 L439.32,258.66 L440.10,259.01 L440.88,259.35 L441.66,259.67 L442.44,260.00 L443.22,260.34 L444.00,260.71 L444.78,261.12 L445.56,261.59 L446.34,262.09 L447.13,262.64 L447.91,263.22 L448.69,263.83 L449.47,264.48 L450.25,265.15 L451.03,265.84 L451.81,266.69 L452.59,267.66 L453.37,268.56 L454.15,269.16 L454.93,269.55 L455.71,269.88 L456.49,270.11 L457.27,270.20 L458.05,270.20 L458.83,270.20 L459.61,270.20 L460.39,270.20 L461.17,270.20 L461.95,270.20 L462.74,270.20 L463.52,270.20 L464.30,270.20 L465.08,270.20 L465.86,270.20 L466.64,270.20 L467.42,270.20 L468.20,270.20 L468.98,270.20 L469.76,270.20 L470.54,270.20 L471.32,270.20 L472.10,270.20 L472.88,270.20 L473.66,270.20 L474.44,270.20 L475.22,270.20 L476.00,270.20 L476.78,270.20 L477.56,270.20 L478.35,270.20 L479.13,270.20 L479.91,270.20 L480.69,270.20 L481.47,270.20 L482.25,270.20 L483.03,270.20 L483.81,270.20 L484.59,270.20 L485.37,270.20 L486.15,270.20 L486.93,270.20 L487.71,270.20 L488.49,270.20 L489.27,270.20 L490.05,270.20 L490.83,270.20 L491.61,270.20 L492.39,270.20 L493.17,270.20 L493.96,270.20 L494.74,270.20 L495.52,270.20 L496.30,270.20 L497.08,270.20 L497.86,270.20 L498.64,270.20 L499.42,270.20 L500.20,270.20 L500.98,270.20 L501.76,270.20 L502.54,270.20 L503.32,270.20 L504.10,270.20 L504.88,270.20 L505.66,270.20 L506.44,270.20 L507.22,270.20 L508.00,270.20 L508.78,270.20 L509.57,270.20 L510.35,270.20 L511.13,270.20 L511.91,270.20 L512.69,270.20 L513.47,270.20" fill="none" stroke="#bf00bf" stroke-width="2.4" stroke-dasharray="1.9 1.9" stroke-linejoin="round"/>
<path d="M61.60,267.90 L66.20,272.50 M66.20,267.90 L61.60,272.50" stroke="#bf00bf" stroke-width="2.2"/>
<path d="M100.62,267.90 L105.22,272.50 M105.22,267.90 L100.62,272.50" stroke="#bf00bf" stroke-width="2.2"/>
<path d="M139.65,267.90 L144.25,272.50 M144.25,267.90 L139.65,272.50" stroke="#bf00bf" stroke-width="2.2"/>
<path d="M178.67,267.90 L183.28,272.50 M183.28,267.90 L178.67,272.50" stroke="#bf00bf" stroke-width="2.2"/>
<path d="M217.70,267.90 L222.30,272.50 M222.30,267.90 L217.70,272.50" stroke="#bf00bf" stroke-width="2.2"/>
<path d="M256.72,267.90 L261.32,272.50 M261.32,267.90 L256.72,272.50" stroke="#bf00bf" stroke-width="2.2"/>
<path d="M295.75,267.90 L300.35,272.50 M300.35,267.90 L295.75,272.50" stroke="#bf00bf" stroke-width="2.2"/>
<path d="M334.77,263.23 L339.38,267.83 M339.38,263.23 L334.77,267.83" stroke="#bf00bf" stroke-width="2.2"/>
<path d="M373.80,236.06 L378.40,240.66 M378.40,236.06 L373.80,240.66" stroke="#bf00bf" stroke-width="2.2"/>
<path d="M412.82,239.49 L417.42,244.09 M417.42,239.49 L412.82,244.09" stroke="#bf00bf" stroke-width="2.2"/>
<path d="M451.85,266.86 L456.45,271.46 M456.45,266.86 L451.85,271.46" stroke="#bf00bf" stroke-width="2.2"/>
<path d="M490.87,267.90 L495.47,272.50 M495.47,267.90 L490.87,272.50" stroke="#bf00bf" stroke-width="2.2"/>
<path d="M63.90,270.20 L64.68,270.20 L65.46,270.20 L66.24,270.20 L67.02,270.20 L67.80,270.20 L68.58,270.20 L69.36,270.20 L70.14,270.20 L70.92,270.20 L71.70,270.20 L72.49,270.20 L73.27,270.20 L74.05,270.20 L74.83,270.20 L75.61,270.20 L76.39,270.20 L77.17,270.20 L77.95,270.20 L78.73,270.20 L79.51,270.20 L80.29,270.20 L81.07,270.20 L81.85,270.20 L82.63,270.20 L83.41,270.20 L84.19,270.20 L84.97,270.20 L85.75,270.20 L86.53,270.20 L87.31,270.20 L88.10,270.20 L88.88,270.20 L89.66,270.20 L90.44,270.20 L91.22,270.20 L92.00,270.20 L92.78,270.20 L93.56,270.20 L94.34,270.20 L95.12,270.20 L95.90,270.20 L96.68,270.20 L97.46,270.20 L98.24,270.20 L99.02,270.20 L99.80,270.20 L100.58,270.20 L101.36,270.20 L102.14,270.20 L102.92,270.20 L103.71,270.20 L104.49,270.20 L105.27,270.20 L106.05,270.20 L106.83,270.20 L107.61,270.20 L108.39,270.20 L109.17,270.20 L109.95,270.20 L110.73,270.20 L111.51,270.20 L112.29,270.20 L113.07,270.20 L113.85,270.20 L114.63,270.20 L115.41,270.20 L116.19,270.20 L116.97,270.20 L117.75,270.20 L118.53,270.20 L119.32,270.20 L120.10,270.20 L120.88,270.20 L121.66,270.20 L122.44,270.20 L123.22,270.20 L124.00,270.20 L124.78,270.20 L125.56,270.20 L126.34,270.20 L127.12,270.20 L127.90,270.20 L128.68,270.20 L129.46,270.20 L130.24,270.20 L131.02,270.20 L131.80,270.20 L132.58,270.20 L133.36,270.20 L134.15,270.20 L134.93,270.20 L135.71,270.20 L136.49,270.20 L137.27,270.20 L138.05,270.20 L138.83,270.20 L139.61,270.20 L140.39,270.20 L141.17,270.20 L141.95,270.20 L142.73,270.20 L143.51,270.20 L144.29,270.20 L145.07,270.20 L145.85,270.20 L146.63,270.20 L147.41,270.20 L148.19,270.20 L148.97,270.20 L149.75,270.20 L150.54,270.20 L151.32,270.20 L152.10,270.20 L152.88,270.20 L153.66,270.20 L154.44,270.20 L155.22,270.20 L156.00,270.20 L156.78,270.20 L157.56,270.20 L158.34,270.20 L159.12,270.20 L159.90,270.20 L160.68,270.20 L161.46,270.20 L162.24,270.20 L163.02,270.20 L163.80,270.20 L164.58,270.20 L165.37,270.20 L166.15,270.20 L166.93,270.20 L167.71,270.20 L168.49,270.20 L169.27,270.20 L170.05,270.20 L170.83,270.20 L171.61,270.20 L172.39,270.20 L173.17,270.20 L173.95,270.20 L174.73,270.20 L175.51,270.20 L176.29,270.20 L177.07,270.20 L177.85,270.20 L178.63,270.20 L179.41,270.20 L180.19,270.20 L180.97,270.20 L181.76,270.20 L182.54,270.20 L183.32,270.20 L184.10,270.20 L184.88,270.20 L185.66,270.20 L186.44,270.20 L187.22,270.20 L188.00,270.20 L188.78,270.20 L189.56,270.20 L190.34,270.20 L191.12,270.20 L191.90,270.20 L192.68,270.20 L193.46,270.20 L194.24,270.20 L195.02,270.20 L195.80,270.20 L196.59,270.20 L197.37,270.20 L198.15,270.20 L198.93,270.20 L199.71,270.20 L200.49,270.20 L201.27,270.20 L202.05,270.20 L202.83,270.20 L203.61,270.20 L204.39,270.20 L205.17,270.20 L205.95,270.20 L206.73,270.20 L207.51,270.20 L208.29,270.20 L209.07,270.20 L209.85,270.20 L210.63,270.20 L211.41,270.20 L212.19,270.20 L212.98,270.20 L213.76,270.20 L214.54,270.20 L215.32,270.20 L216.10,270.20 L216.88,270.20 L217.66,270.20 L218.44,270.20 L219.22,270.20 L220.00,270.20 L220.78,270.20 L221.56,270.20 L222.34,270.20 L223.12,270.20 L223.90,270.20 L224.68,270.20 L225.46,270.20 L226.24,270.20 L227.02,270.20 L227.81,270.20 L228.59,270.20 L229.37,270.20 L230.15,270.20 L230.93,270.20 L231.71,270.20 L232.49,270.20 L233.27,270.20 L234.05,270.20 L234.83,270.20 L235.61,270.20 L236.39,270.20 L237.17,270.20 L237.95,270.20 L238.73,270.20 L239.51,270.20 L240.29,270.20 L241.07,270.20 L241.85,270.20 L242.63,270.20 L243.41,270.20 L244.20,270.20 L244.98,270.20 L245.76,270.20 L246.54,270.20 L247.32,270.20 L248.10,270.20 L248.88,270.20 L249.66,270.20 L250.44,270.20 L251.22,270.20 L252.00,270.20 L252.78,270.20 L253.56,270.20 L254.34,270.20 L255.12,270.20 L255.90,270.20 L256.68,270.20 L257.46,270.20 L258.24,270.20 L259.02,270.20 L259.81,270.20 L260.59,270.20 L261.37,270.20 L262.15,270.20 L262.93,270.20 L263.71,270.20 L264.49,270.20 L265.27,270.20 L266.05,270.20 L266.83,270.20 L267.61,270.20 L268.39,270.20 L269.17,270.20 L269.95,270.20 L270.73,270.20 L271.51,270.20 L272.29,270.20 L273.07,270.20 L273.85,270.20 L274.63,270.20 L275.42,270.20 L276.20,270.20 L276.98,270.20 L277.76,270.20 L278.54,270.20 L279.32,270.20 L280.10,270.20 L280.88,270.20 L281.66,270.20 L282.44,270.20 L283.22,270.20 L284.00,270.20 L284.78,270.20 L285.56,270.20 L286.34,270.20 L287.12,270.20 L287.90,270.20 L288.68,270.20 L289.46,270.20 L290.25,270.20 L291.03,270.20 L291.81,270.20 L292.59,270.20 L293.37,270.20 L294.15,270.20 L294.93,270.20 L295.71,270.20 L296.49,270.20 L297.27,270.20 L298.05,270.20 L298.83,270.20 L299.61,270.20 L300.39,270.20 L301.17,270.20 L301.95,270.20 L302.73,270.20 L303.51,270.20 L304.29,270.20 L305.07,270.20 L305.85,270.20 L306.64,270.20 L307.42,270.20 L308.20,270.20 L308.98,270.20 L309.76,270.20 L310.54,270.20 L311.32,270.20 L312.10,270.20 L312.88,270.20 L313.66,270.20 L314.44,270.20 L315.22,270.20 L316.00,270.20 L316.78,270.20 L317.56,270.20 L318.34,270.20 L319.12,270.20 L319.90,270.20 L320.68,270.20 L321.46,270.20 L322.25,270.20 L323.03,270.20 L323.81,270.20 L324.59,270.20 L325.37,270.20 L326.15,270.20 L326.93,270.20 L327.71,270.20 L328.49,270.20 L329.27,270.20 L330.05,270.20 L330.83,270.20 L331.61,270.20 L332.39,270.20 L333.17,270.20 L333.95,270.20 L334.73,270.20 L335.51,270.20 L336.29,270.20 L337.07,270.20 L337.86,270.20 L338.64,270.20 L339.42,270.20 L340.20,270.20 L340.98,270.20 L341.76,270.20 L342.54,270.20 L343.32,270.20 L344.10,270.20 L344.88,270.20 L345.66,270.20 L346.44,270.20 L347.22,270.20 L348.00,270.20 L348.78,270.20 L349.56,270.20 L350.34,270.20 L351.12,270.20 L351.90,270.20 L352.68,270.20 L353.47,270.09 L354.25,269.80 L355.03,269.39 L355.81,268.93 L356.59,268.49 L357.37,268.13 L358.15,267.81 L358.93,267.47 L359.71,267.13 L360.49,266.78 L361.27,266.45 L362.05,266.16 L362.83,265.90 L363.61,265.71 L364.39,265.58 L365.17,265.53 L365.95,265.58 L366.73,265.70 L367.51,265.89 L368.29,266.13 L369.08,266.42 L369.86,266.74 L370.64,267.08 L371.42,267.44 L372.20,267.79 L372.98,268.13 L373.76,268.55 L374.54,269.09 L375.32,269.63 L376.10,270.04 L376.88,270.20 L377.66,270.20 L378.44,270.20 L379.22,270.20 L380.00,270.20 L380.78,270.20 L381.56,270.20 L382.34,270.20 L383.12,270.20 L383.90,270.20 L384.69,270.20 L385.47,270.20 L386.25,270.20 L387.03,270.20 L387.81,270.20 L388.59,270.20 L389.37,270.20 L390.15,270.20 L390.93,270.20 L391.71,270.20 L392.49,270.20 L393.27,270.20 L394.05,270.20 L394.83,270.20 L395.61,270.20 L396.39,270.20 L397.17,270.20 L397.95,270.20 L398.73,270.20 L399.51,270.20 L400.30,270.20 L401.08,270.20 L401.86,270.20 L402.64,270.20 L403.42,270.20 L404.20,270.20 L404.98,270.20 L405.76,270.20 L406.54,270.20 L407.32,270.20 L408.10,270.20 L408.88,270.20 L409.66,270.20 L410.44,270.20 L411.22,270.20 L412.00,270.20 L412.78,270.20 L413.56,270.20 L414.34,270.20 L415.12,270.20 L415.91,270.20 L416.69,270.20 L417.47,270.20 L418.25,270.20 L419.03,270.20 L419.81,270.20 L420.59,270.20 L421.37,270.20 L422.15,270.20 L422.93,270.20 L423.71,270.20 L424.49,270.20 L425.27,270.20 L426.05,270.20 L426.83,270.20 L427.61,270.20 L428.39,270.20 L429.17,270.20 L429.95,270.20 L430.73,270.20 L431.52,270.20 L432.30,270.20 L433.08,270.20 L433.86,270.20 L434.64,270.20 L435.42,270.20 L436.20,270.20 L436.98,270.20 L437.76,270.20 L438.54,270.20 L439.32,270.20 L440.10,270.20 L440.88,270.20 L441.66,270.20 L442.44,270.20 L443.22,270.20 L444.00,270.20 L444.78,270.20 L445.56,270.20 L446.34,270.20 L447.13,270.20 L447.91,270.20 L448.69,270.20 L449.47,270.20 L450.25,270.20 L451.03,270.20 L451.81,270.20 L452.59,270.20 L453.37,270.20 L454.15,270.20 L454.93,270.20 L455.71,270.20 L456.49,270.20 L457.27,270.20 L458.05,270.20 L458.83,270.20 L459.61,270.20 L460.39,270.20 L461.17,270.20 L461.95,270.20 L462.74,270.20 L463.52,270.20 L464.30,270.20 L465.08,270.20 L465.86,270.20 L466.64,270.20 L467.42,270.20 L468.20,270.20 L468.98,270.20 L469.76,270.20 L470.54,270.20 L471.32,270.20 L472.10,270.20 L472.88,270.20 L473.66,270.20 L474.44,270.20 L475.22,270.20 L476.00,270.20 L476.78,270.20 L477.56,270.20 L478.35,270.20 L479.13,270.20 L479.91,270.20 L480.69,270.20 L481.47,270.20 L482.25,270.20 L483.03,270.20 L483.81,270.20 L484.59,270.20 L485.37,270.20 L486.15,270.20 L486.93,270.20 L487.71,270.20 L488.49,270.20 L489.27,270.20 L490.05,270.20 L490.83,270.20 L491.61,270.20 L492.39,270.20 L493.17,270.20 L493.96,270.20 L494.74,270.20 L495.52,270.20 L496.30,270.20 L497.08,270.20 L497.86,270.20 L498.64,270.20 L499.42,270.20 L500.20,270.20 L500.98,270.20 L501.76,270.20 L502.54,270.20 L503.32,270.20 L504.10,270.20 L504.88,270.20 L505.66,270.20 L506.44,270.20 L507.22,270.20 L508.00,270.20 L508.78,270.20 L509.57,270.20 L510.35,270.20 L511.13,270.20 L511.91,270.20 L512.69,270.20 L513.47,270.20" fill="none" stroke="#08b5b0" stroke-width="2.4" stroke-dasharray="7 7.4" stroke-linejoin="round"/>
<text x="59.53" y="290.8" font-size="15.9" textLength="7.55" lengthAdjust="spacingAndGlyphs">0</text>
<text x="130.03" y="290.8" font-size="15.9" textLength="22.65" lengthAdjust="spacingAndGlyphs">100</text>
<text x="208.07" y="290.8" font-size="15.9" textLength="22.65" lengthAdjust="spacingAndGlyphs">200</text>
<text x="286.12" y="290.8" font-size="15.9" textLength="22.65" lengthAdjust="spacingAndGlyphs">300</text>
<text x="364.18" y="290.8" font-size="15.9" textLength="22.65" lengthAdjust="spacingAndGlyphs">400</text>
<text x="442.23" y="290.8" font-size="15.9" textLength="22.65" lengthAdjust="spacingAndGlyphs">500</text>
<text x="520.27" y="290.8" font-size="15.9" textLength="22.65" lengthAdjust="spacingAndGlyphs">600</text>
<text x="33.95" y="224.8" font-size="15.9" textLength="22.65" lengthAdjust="spacingAndGlyphs">500</text>
<text x="49.05" y="276.6" font-size="15.9" textLength="7.55" lengthAdjust="spacingAndGlyphs">0</text>
<text x="226.95" y="209.3" font-size="16.2" textLength="74.48" lengthAdjust="spacingAndGlyphs">Oscillatory</text><text x="306.64" y="209.3" font-size="16.2" textLength="61.00" lengthAdjust="spacingAndGlyphs">transient</text>
<rect x="72.8" y="223.9" width="228.6" height="21.0" fill="#fff" stroke="#262626" stroke-width="0.8"/>
<line x1="76.4" y1="234.4" x2="112" y2="234.4" stroke="#bf00bf" stroke-width="2.4" stroke-dasharray="1.9 1.85"/>
<path d="M92.60,232.15 L97.20,236.75 M97.20,232.15 L92.60,236.75" stroke="#bf00bf" stroke-width="2.2"/>
<text x="115.40" y="237.9" font-size="14.6" textLength="67.82" lengthAdjust="spacingAndGlyphs">Oscillatory</text><text x="187.96" y="237.9" font-size="14.6" textLength="55.55" lengthAdjust="spacingAndGlyphs">transient</text><text x="248.25" y="237.9" font-size="14.6" textLength="49.23" lengthAdjust="spacingAndGlyphs">statistic</text>
<rect x="63.1" y="316.46" width="468.30" height="52.84" fill="none" stroke="#262626" stroke-width="0.8"/>
<line x1="63.10" y1="316.46" x2="63.10" y2="321.26" stroke="#262626" stroke-width="0.8"/>
<line x1="63.10" y1="369.3" x2="63.10" y2="364.5" stroke="#262626" stroke-width="0.8"/>
<line x1="141.15" y1="316.46" x2="141.15" y2="321.26" stroke="#262626" stroke-width="0.8"/>
<line x1="141.15" y1="369.3" x2="141.15" y2="364.5" stroke="#262626" stroke-width="0.8"/>
<line x1="219.20" y1="316.46" x2="219.20" y2="321.26" stroke="#262626" stroke-width="0.8"/>
<line x1="219.20" y1="369.3" x2="219.20" y2="364.5" stroke="#262626" stroke-width="0.8"/>
<line x1="297.25" y1="316.46" x2="297.25" y2="321.26" stroke="#262626" stroke-width="0.8"/>
<line x1="297.25" y1="369.3" x2="297.25" y2="364.5" stroke="#262626" stroke-width="0.8"/>
<line x1="375.30" y1="316.46" x2="375.30" y2="321.26" stroke="#262626" stroke-width="0.8"/>
<line x1="375.30" y1="369.3" x2="375.30" y2="364.5" stroke="#262626" stroke-width="0.8"/>
<line x1="453.35" y1="316.46" x2="453.35" y2="321.26" stroke="#262626" stroke-width="0.8"/>
<line x1="453.35" y1="369.3" x2="453.35" y2="364.5" stroke="#262626" stroke-width="0.8"/>
<line x1="531.40" y1="316.46" x2="531.40" y2="321.26" stroke="#262626" stroke-width="0.8"/>
<line x1="531.40" y1="369.3" x2="531.40" y2="364.5" stroke="#262626" stroke-width="0.8"/>
<line x1="63.1" y1="316.46" x2="67.9" y2="316.46" stroke="#262626" stroke-width="0.8"/>
<line x1="531.4" y1="316.46" x2="526.6" y2="316.46" stroke="#262626" stroke-width="0.8"/>
<line x1="181.97" y1="316.46" x2="181.97" y2="369.3" stroke="#6a6a6a" stroke-width="1.1" stroke-dasharray="9.3 4.5"/>
<line x1="513.68" y1="316.46" x2="513.68" y2="369.3" stroke="#6a6a6a" stroke-width="1.1" stroke-dasharray="9.3 4.5"/>
<line x1="63.90" y1="369.3" x2="513.47" y2="369.3" stroke="#0000ff" stroke-width="2.4"/>
<line x1="63.90" y1="369.3" x2="513.47" y2="369.3" stroke="#ff0000" stroke-width="2.4" stroke-dasharray="7 2.3 2.3 2.3"/>
<line x1="63.90" y1="369.3" x2="513.47" y2="369.3" stroke="#bf00bf" stroke-width="2.4" stroke-dasharray="1.9 1.9"/>
<path d="M63.90,369.30 L64.68,369.30 L65.46,369.30 L66.24,369.30 L67.02,369.30 L67.80,369.30 L68.58,369.30 L69.36,369.30 L70.14,369.30 L70.92,369.30 L71.70,369.30 L72.49,369.30 L73.27,369.30 L74.05,369.30 L74.83,369.30 L75.61,369.30 L76.39,369.30 L77.17,369.30 L77.95,369.30 L78.73,369.30 L79.51,369.30 L80.29,369.30 L81.07,369.30 L81.85,369.30 L82.63,369.30 L83.41,369.30 L84.19,369.30 L84.97,369.30 L85.75,369.30 L86.53,369.30 L87.31,369.30 L88.10,369.30 L88.88,369.30 L89.66,369.30 L90.44,369.30 L91.22,369.30 L92.00,369.30 L92.78,369.30 L93.56,369.30 L94.34,369.30 L95.12,369.30 L95.90,369.30 L96.68,369.30 L97.46,369.30 L98.24,369.30 L99.02,369.30 L99.80,369.30 L100.58,369.30 L101.36,369.30 L102.14,369.30 L102.92,369.30 L103.71,369.30 L104.49,369.30 L105.27,369.30 L106.05,369.30 L106.83,369.30 L107.61,369.30 L108.39,369.30 L109.17,369.30 L109.95,369.30 L110.73,369.30 L111.51,369.30 L112.29,369.30 L113.07,369.30 L113.85,369.30 L114.63,369.30 L115.41,369.30 L116.19,369.30 L116.97,369.30 L117.75,369.30 L118.53,369.30 L119.32,369.30 L120.10,369.30 L120.88,369.30 L121.66,369.30 L122.44,369.30 L123.22,369.30 L124.00,369.30 L124.78,369.30 L125.56,369.30 L126.34,369.30 L127.12,369.30 L127.90,369.30 L128.68,369.30 L129.46,369.30 L130.24,369.30 L131.02,369.30 L131.80,369.30 L132.58,369.30 L133.36,369.30 L134.15,369.30 L134.93,369.30 L135.71,369.30 L136.49,369.30 L137.27,369.30 L138.05,369.30 L138.83,369.30 L139.61,369.30 L140.39,369.30 L141.17,369.30 L141.95,369.30 L142.73,369.30 L143.51,369.30 L144.29,369.30 L145.07,369.30 L145.85,369.30 L146.63,369.30 L147.41,369.30 L148.19,369.30 L148.97,369.30 L149.75,369.30 L150.54,369.30 L151.32,369.30 L152.10,369.30 L152.88,369.30 L153.66,369.30 L154.44,369.30 L155.22,369.30 L156.00,369.30 L156.78,369.30 L157.56,369.30 L158.34,369.30 L159.12,369.30 L159.90,369.30 L160.68,369.30 L161.46,369.30 L162.24,369.30 L163.02,369.30 L163.80,369.30 L164.58,369.30 L165.37,369.30 L166.15,369.30 L166.93,369.30 L167.71,369.30 L168.49,369.30 L169.27,369.30 L170.05,369.30 L170.83,369.30 L171.61,369.30 L172.39,369.30 L173.17,369.30 L173.95,369.30 L174.73,369.30 L175.51,369.30 L176.29,369.30 L177.07,369.30 L177.85,369.30 L178.63,369.30 L179.41,369.30 L180.19,369.30 L180.97,369.30 L181.76,369.30 L182.54,369.30 L183.32,369.30 L184.10,369.30 L184.88,369.30 L185.66,369.30 L186.44,369.30 L187.22,369.30 L188.00,369.30 L188.78,369.30 L189.56,369.30 L190.34,369.30 L191.12,369.30 L191.90,369.30 L192.68,369.30 L193.46,369.30 L194.24,369.30 L195.02,369.30 L195.80,369.30 L196.59,369.30 L197.37,369.30 L198.15,369.30 L198.93,369.30 L199.71,369.30 L200.49,369.30 L201.27,369.29 L202.05,369.26 L202.83,369.21 L203.61,369.14 L204.39,369.06 L205.17,368.96 L205.95,368.84 L206.73,368.72 L207.51,368.59 L208.29,368.44 L209.07,368.29 L209.85,368.13 L210.63,367.97 L211.41,367.80 L212.19,367.63 L212.98,367.46 L213.76,367.29 L214.54,367.13 L215.32,366.96 L216.10,366.80 L216.88,366.65 L217.66,366.50 L218.44,366.37 L219.22,366.24 L220.00,366.13 L220.78,366.02 L221.56,365.92 L222.34,365.82 L223.12,365.72 L223.90,365.62 L224.68,365.52 L225.46,365.42 L226.24,365.33 L227.02,365.24 L227.81,365.14 L228.59,365.05 L229.37,364.96 L230.15,364.87 L230.93,364.79 L231.71,364.70 L232.49,364.61 L233.27,364.53 L234.05,364.44 L234.83,364.36 L235.61,364.28 L236.39,364.19 L237.17,364.11 L237.95,364.03 L238.73,363.95 L239.51,363.87 L240.29,363.78 L241.07,363.70 L241.85,363.62 L242.63,363.54 L243.41,363.46 L244.20,363.37 L244.98,363.29 L245.76,363.21 L246.54,363.12 L247.32,363.04 L248.10,362.95 L248.88,362.87 L249.66,362.78 L250.44,362.69 L251.22,362.60 L252.00,362.51 L252.78,362.42 L253.56,362.33 L254.34,362.23 L255.12,362.14 L255.90,362.04 L256.68,361.94 L257.46,361.84 L258.24,361.74 L259.02,361.64 L259.81,361.53 L260.59,361.43 L261.37,361.32 L262.15,361.21 L262.93,361.10 L263.71,360.99 L264.49,360.88 L265.27,360.76 L266.05,360.65 L266.83,360.53 L267.61,360.42 L268.39,360.30 L269.17,360.18 L269.95,360.06 L270.73,359.94 L271.51,359.82 L272.29,359.70 L273.07,359.58 L273.85,359.45 L274.63,359.33 L275.42,359.20 L276.20,359.08 L276.98,358.95 L277.76,358.82 L278.54,358.70 L279.32,358.57 L280.10,358.44 L280.88,358.31 L281.66,358.18 L282.44,358.05 L283.22,357.92 L284.00,357.79 L284.78,357.66 L285.56,357.53 L286.34,357.40 L287.12,357.27 L287.90,357.14 L288.68,357.01 L289.46,356.88 L290.25,356.74 L291.03,356.61 L291.81,356.48 L292.59,356.35 L293.37,356.22 L294.15,356.08 L294.93,355.95 L295.71,355.82 L296.49,355.69 L297.27,355.56 L298.05,355.43 L298.83,355.30 L299.61,355.17 L300.39,355.03 L301.17,354.90 L301.95,354.77 L302.73,354.63 L303.51,354.50 L304.29,354.36 L305.07,354.23 L305.85,354.09 L306.64,353.95 L307.42,353.81 L308.20,353.68 L308.98,353.54 L309.76,353.40 L310.54,353.26 L311.32,353.12 L312.10,352.98 L312.88,352.84 L313.66,352.70 L314.44,352.56 L315.22,352.42 L316.00,352.28 L316.78,352.14 L317.56,351.99 L318.34,351.85 L319.12,351.71 L319.90,351.57 L320.68,351.43 L321.46,351.29 L322.25,351.15 L323.03,351.01 L323.81,350.87 L324.59,350.73 L325.37,350.59 L326.15,350.45 L326.93,350.31 L327.71,350.18 L328.49,350.04 L329.27,349.90 L330.05,349.76 L330.83,349.63 L331.61,349.49 L332.39,349.36 L333.17,349.22 L333.95,349.09 L334.73,348.96 L335.51,348.82 L336.29,348.69 L337.07,348.56 L337.86,348.43 L338.64,348.30 L339.42,348.17 L340.20,348.04 L340.98,347.92 L341.76,347.79 L342.54,347.66 L343.32,347.53 L344.10,347.41 L344.88,347.28 L345.66,347.16 L346.44,347.03 L347.22,346.91 L348.00,346.79 L348.78,346.66 L349.56,346.54 L350.34,346.42 L351.12,346.29 L351.90,346.17 L352.68,346.05 L353.47,345.92 L354.25,345.80 L355.03,345.68 L355.81,345.56 L356.59,345.44 L357.37,345.32 L358.15,345.19 L358.93,345.07 L359.71,344.95 L360.49,344.83 L361.27,344.71 L362.05,344.58 L362.83,344.46 L363.61,344.34 L364.39,344.22 L365.17,344.10 L365.95,343.97 L366.73,343.85 L367.51,343.73 L368.29,343.60 L369.08,343.48 L369.86,343.36 L370.64,343.23 L371.42,343.11 L372.20,342.98 L372.98,342.86 L373.76,342.73 L374.54,342.61 L375.32,342.48 L376.10,342.35 L376.88,342.22 L377.66,342.10 L378.44,341.97 L379.22,341.84 L380.00,341.71 L380.78,341.58 L381.56,341.45 L382.34,341.32 L383.12,341.19 L383.90,341.05 L384.69,340.92 L385.47,340.79 L386.25,340.66 L387.03,340.53 L387.81,340.39 L388.59,340.26 L389.37,340.13 L390.15,339.99 L390.93,339.86 L391.71,339.73 L392.49,339.59 L393.27,339.46 L394.05,339.33 L394.83,339.19 L395.61,339.06 L396.39,338.93 L397.17,338.79 L397.95,338.66 L398.73,338.53 L399.51,338.39 L400.30,338.26 L401.08,338.13 L401.86,338.00 L402.64,337.87 L403.42,337.73 L404.20,337.60 L404.98,337.47 L405.76,337.34 L406.54,337.21 L407.32,337.08 L408.10,336.95 L408.88,336.82 L409.66,336.69 L410.44,336.57 L411.22,336.44 L412.00,336.31 L412.78,336.19 L413.56,336.06 L414.34,335.94 L415.12,335.81 L415.91,335.69 L416.69,335.56 L417.47,335.44 L418.25,335.32 L419.03,335.19 L419.81,335.07 L420.59,334.94 L421.37,334.82 L422.15,334.70 L422.93,334.57 L423.71,334.45 L424.49,334.32 L425.27,334.20 L426.05,334.08 L426.83,333.95 L427.61,333.83 L428.39,333.71 L429.17,333.59 L429.95,333.46 L430.73,333.34 L431.52,333.22 L432.30,333.10 L433.08,332.98 L433.86,332.86 L434.64,332.74 L435.42,332.62 L436.20,332.50 L436.98,332.38 L437.76,332.26 L438.54,332.14 L439.32,332.03 L440.10,331.91 L440.88,331.79 L441.66,331.68 L442.44,331.56 L443.22,331.45 L444.00,331.34 L444.78,331.22 L445.56,331.11 L446.34,331.00 L447.13,330.89 L447.91,330.78 L448.69,330.67 L449.47,330.56 L450.25,330.46 L451.03,330.35 L451.81,330.24 L452.59,330.14 L453.37,330.04 L454.15,329.93 L454.93,329.83 L455.71,329.73 L456.49,329.63 L457.27,329.52 L458.05,329.42 L458.83,329.32 L459.61,329.21 L460.39,329.11 L461.17,329.00 L461.95,328.90 L462.74,328.80 L463.52,328.69 L464.30,328.59 L465.08,328.48 L465.86,328.38 L466.64,328.28 L467.42,328.18 L468.20,328.07 L468.98,327.97 L469.76,327.87 L470.54,327.77 L471.32,327.67 L472.10,327.57 L472.88,327.48 L473.66,327.38 L474.44,327.28 L475.22,327.19 L476.00,327.10 L476.78,327.00 L477.56,326.91 L478.35,326.82 L479.13,326.73 L479.91,326.65 L480.69,326.56 L481.47,326.48 L482.25,326.40 L483.03,326.31 L483.81,326.24 L484.59,326.16 L485.37,326.08 L486.15,326.01 L486.93,325.94 L487.71,325.87 L488.49,325.80 L489.27,325.74 L490.05,325.67 L490.83,325.61 L491.61,325.55 L492.39,325.50 L493.17,325.44 L493.96,325.39 L494.74,325.34 L495.52,325.29 L496.30,325.24 L497.08,325.19 L497.86,325.14 L498.64,325.09 L499.42,325.05 L500.20,325.00 L500.98,324.96 L501.76,324.91 L502.54,324.87 L503.32,324.83 L504.10,324.79 L504.88,324.75 L505.66,324.71 L506.44,324.68 L507.22,324.64 L508.00,324.61 L508.78,324.57 L509.57,324.54 L510.35,324.51 L511.13,324.48 L511.91,324.46 L512.69,324.43 L513.47,324.41" fill="none" stroke="#08b5b0" stroke-width="2.4" stroke-dasharray="7 7.4" stroke-linejoin="round"/>
<circle cx="63.90" cy="369.30" r="3.7" fill="none" stroke="#08b5b0" stroke-width="2.3"/>
<circle cx="102.92" cy="369.30" r="3.7" fill="none" stroke="#08b5b0" stroke-width="2.3"/>
<circle cx="141.95" cy="369.30" r="3.7" fill="none" stroke="#08b5b0" stroke-width="2.3"/>
<circle cx="180.97" cy="369.30" r="3.7" fill="none" stroke="#08b5b0" stroke-width="2.3"/>
<circle cx="220.00" cy="366.13" r="3.7" fill="none" stroke="#08b5b0" stroke-width="2.3"/>
<circle cx="259.02" cy="361.64" r="3.7" fill="none" stroke="#08b5b0" stroke-width="2.3"/>
<circle cx="298.05" cy="355.43" r="3.7" fill="none" stroke="#08b5b0" stroke-width="2.3"/>
<circle cx="337.07" cy="348.56" r="3.7" fill="none" stroke="#08b5b0" stroke-width="2.3"/>
<circle cx="376.10" cy="342.35" r="3.7" fill="none" stroke="#08b5b0" stroke-width="2.3"/>
<circle cx="415.12" cy="335.81" r="3.7" fill="none" stroke="#08b5b0" stroke-width="2.3"/>
<circle cx="454.15" cy="329.93" r="3.7" fill="none" stroke="#08b5b0" stroke-width="2.3"/>
<circle cx="493.17" cy="325.44" r="3.7" fill="none" stroke="#08b5b0" stroke-width="2.3"/>
<text x="59.53" y="389.9" font-size="15.9" textLength="7.55" lengthAdjust="spacingAndGlyphs">0</text>
<text x="130.03" y="389.9" font-size="15.9" textLength="22.65" lengthAdjust="spacingAndGlyphs">100</text>
<text x="208.07" y="389.9" font-size="15.9" textLength="22.65" lengthAdjust="spacingAndGlyphs">200</text>
<text x="286.12" y="389.9" font-size="15.9" textLength="22.65" lengthAdjust="spacingAndGlyphs">300</text>
<text x="364.18" y="389.9" font-size="15.9" textLength="22.65" lengthAdjust="spacingAndGlyphs">400</text>
<text x="442.23" y="389.9" font-size="15.9" textLength="22.65" lengthAdjust="spacingAndGlyphs">500</text>
<text x="520.27" y="389.9" font-size="15.9" textLength="22.65" lengthAdjust="spacingAndGlyphs">600</text>
<text x="26.40" y="322.9" font-size="15.9" textLength="30.20" lengthAdjust="spacingAndGlyphs">4000</text>
<text x="49.05" y="375.7" font-size="15.9" textLength="7.55" lengthAdjust="spacingAndGlyphs">0</text>
<text x="260.94" y="308.1" font-size="16.2" textLength="72.73" lengthAdjust="spacingAndGlyphs">Harmonics</text>
<rect x="72.8" y="322.1" width="166.7" height="21.0" fill="#fff" stroke="#262626" stroke-width="0.8"/>
<line x1="77" y1="332.6" x2="113" y2="332.6" stroke="#08b5b0" stroke-width="2.4" stroke-dasharray="6.7 8.1"/>
<circle cx="94.90" cy="332.56" r="3.7" fill="none" stroke="#08b5b0" stroke-width="2.3"/>
<text x="115.40" y="336.1" font-size="14.6" textLength="66.22" lengthAdjust="spacingAndGlyphs">Harmonics</text><text x="186.37" y="336.1" font-size="14.6" textLength="49.23" lengthAdjust="spacingAndGlyphs">statistic</text>
<text transform="translate(16.6,260.3) rotate(-90)" font-size="18.5" textLength="70.6" lengthAdjust="spacingAndGlyphs">Decision</text>
<text transform="translate(16.6,183.8) rotate(-90)" font-size="18.5" textLength="75.2" lengthAdjust="spacingAndGlyphs">statistics</text>
<text x="254.0" y="410.0" font-size="18" font-style="italic" textLength="8.3" lengthAdjust="spacingAndGlyphs">n</text>
<text x="268.3" y="410.0" font-size="18.6" textLength="71.8" lengthAdjust="spacingAndGlyphs">(sample)</text>
</svg>
</body></html>
